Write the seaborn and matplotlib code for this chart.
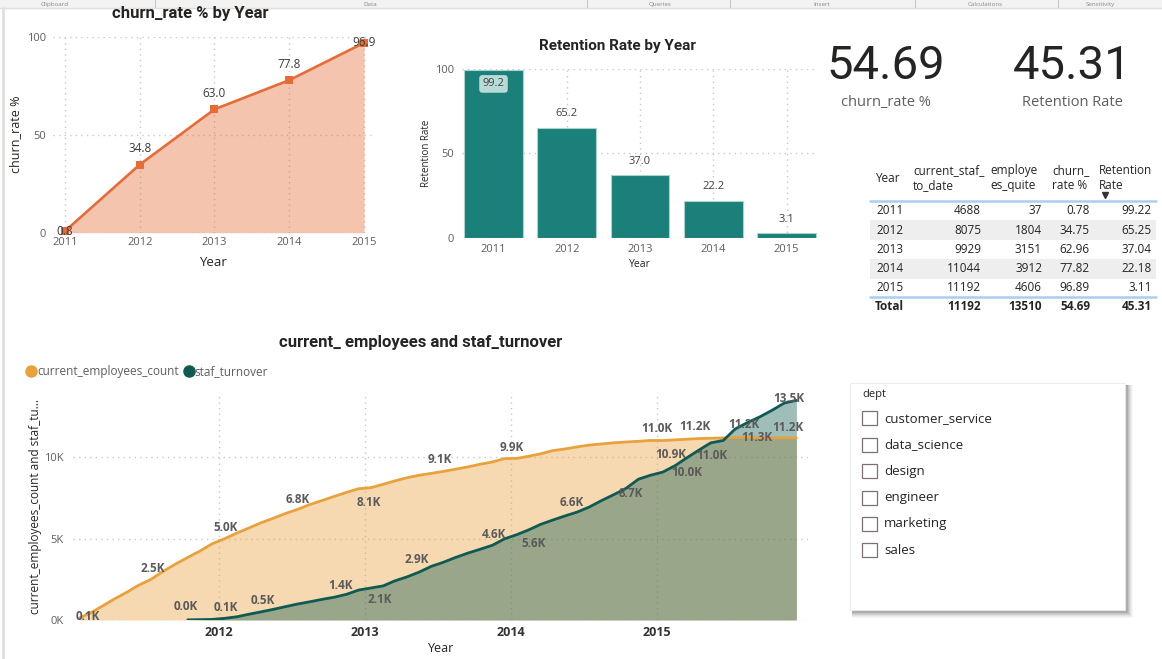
import numpy as np
import pandas as pd
import matplotlib
matplotlib.use("Agg")
import matplotlib.pyplot as plt
import matplotlib.dates as mdates
from matplotlib.patches import Rectangle, FancyBboxPatch
from matplotlib.lines import Line2D
import seaborn as sns

# ---------------- data ----------------
years = [2011, 2012, 2013, 2014, 2015]
year_labels = ["2011", "2012", "2013", "2014", "2015"]
churn_rate = [0.78, 34.75, 62.96, 77.82, 96.89]
retention_rate = [99.22, 65.25, 37.04, 22.18, 3.11]
current_staf_to_date = [4688, 8075, 9929, 11044, 11192]
employees_quite = [37, 1804, 3151, 3912, 4606]
table_churn = ["0.78", "34.75", "62.96", "77.82", "96.89"]
table_retention = ["99.22", "65.25", "37.04", "22.18", "3.11"]
total_row = ["Total", "11192", "13510", "54.69", "45.31"]
table_headers = ["Year", "current_staf_\nto_date", "employe\nes_quite", "churn_\nrate %", "Retention\nRate"]
kpi_values = ["54.69", "45.31"]
kpi_labels = ["churn_rate %", "Retention Rate"]
depts = ["customer_service", "data_science", "design", "engineer", "marketing", "sales"]
ribbon_tabs = ["Clipboard", "Data", "Queries", "Insert", "Calculations", "Sensitivity"]
axis_years = ["2012", "2013", "2014", "2015"]

months = [f"{y}-{m:02d}-15" for y in range(2011, 2016) for m in range(1, 13)]
current_employees_count = [
    100, 450, 850, 1300, 1700, 2150, 2500, 3000, 3450, 3850, 4250, 4688,
    5000, 5350, 5650, 5980, 6250, 6550, 6800, 7100, 7350, 7600, 7850, 8075,
    8140, 8350, 8550, 8750, 8900, 9020, 9140, 9280, 9420, 9580, 9720, 9929,
    9940, 10080, 10220, 10420, 10520, 10650, 10760, 10830, 10900, 10950, 10990, 11044,
    11040, 11080, 11120, 11160, 11180, 11200, 11220, 11260, 11220, 11200, 11200, 11192,
]
staf_turnover = [
    np.nan, np.nan, np.nan, np.nan, np.nan, np.nan, np.nan, np.nan, np.nan, 10, 20, 37,
    100, 200, 350, 500, 650, 820, 980, 1120, 1270, 1400, 1580, 1841,
    1970, 2100, 2400, 2650, 2940, 3300, 3550, 3850, 4120, 4350, 4600, 4992,
    5250, 5560, 5880, 6150, 6400, 6640, 6950, 7350, 7720, 8100, 8660, 8904,
    9100, 9500, 9960, 10450, 10900, 11040, 11750, 12150, 12500, 12900, 13350, 13510,
]

# ---------------- style ----------------
sns.set_style("white")
plt.rcParams["font.family"] = ["Open Sans", "DejaVu Sans"]
plt.rcParams["axes.unicode_minus"] = False

W, H = 1162, 659
fig = plt.figure(figsize=(W / 100, H / 100), dpi=100)
fig.patch.set_facecolor("white")


def px_axes(x0, y0, x1, y1, **kw):
    return fig.add_axes([x0 / W, 1 - y1 / H, (x1 - x0) / W, (y1 - y0) / H], **kw)


GRID = dict(linestyle=(0, (1, 3)), color="#C8C8C8", linewidth=1.0)
TICK_GRAY = "#605E5C"
DARK = "#252423"
TITLE_FONT = ["Roboto", "DejaVu Sans"]


def clean(ax):
    for s in ax.spines.values():
        s.set_visible(False)
    ax.tick_params(length=0)
    ax.set_facecolor("none")


# background layer
bg = px_axes(0, 0, W, H)
bg.set_xlim(0, W)
bg.set_ylim(H, 0)
bg.axis("off")
bg.set_zorder(-10)
bg.add_patch(Rectangle((0, 0), W, 8, color="#F3F2F1", lw=0))
bg.plot([0, W], [8, 8], color="#E1DFDD", lw=1)
for xs in [155, 587, 730, 915, 1058]:
    bg.plot([xs, xs], [0, 7], color="#C8C6C4", lw=0.8)
bg.plot([3, 3], [8, H], color="#E1DFDD", lw=2)
for name, xc in zip(ribbon_tabs, [55, 370, 660, 822, 985, 1100]):
    bg.text(xc, 4.2, name, ha="center", va="center", fontsize=4.5, color="#8A8886")

# ---------------- chart 1: churn rate area ----------------
CH_ORANGE = "#E66C37"
ax1 = px_axes(53, 36.7, 373, 232.7)
clean(ax1)
ax1.fill_between(years, 0, churn_rate, color=CH_ORANGE, alpha=0.4, lw=0, zorder=1)
sns.lineplot(x=years, y=churn_rate, ax=ax1, color=CH_ORANGE, linewidth=1.9,
             marker="s", markersize=6, markeredgewidth=0, zorder=3, clip_on=False)
ax1.set_xlim(2010.84, 2015.12)
ax1.set_ylim(0, 100)
ax1.set_xticks(years)
ax1.set_xticklabels(year_labels)
ax1.set_yticks([0, 50, 100])
ax1.grid(True, axis="both", **GRID)
ax1.set_axisbelow(True)
ax1.tick_params(axis="both", labelsize=8, labelcolor=TICK_GRAY)
ax1.tick_params(axis="y", pad=5)
ax1.tick_params(axis="x", pad=3)
ax1.set_title("churn_rate % by Year", fontsize=12, weight="bold", color=DARK,
              family=TITLE_FONT, x=0.428, y=1.116, va="center", pad=0)
ax1.set_xlabel("Year", fontsize=9.5, color=DARK, va="center")
ax1.xaxis.set_label_coords(0.5, -0.15)
ax1.set_ylabel("churn_rate %", fontsize=9, color=DARK, va="center")
ax1.yaxis.set_label_coords(-0.118, 0.5)
c_off = [0, 16, 16, 16, 0]
for xv, yv, off in zip(years, churn_rate, c_off):
    ax1.annotate(f"{yv:.1f}", (xv, yv), xytext=(0, off), textcoords="offset pixels",
                 ha="center", va="center", fontsize=8.5, color="#3B3B3B",
                 annotation_clip=False, zorder=5)

# ---------------- chart 2: retention bars ----------------
BAR_TEAL = "#1A8079"
ax2 = px_axes(462, 68.6, 818, 238.3)
clean(ax2)
sns.barplot(x=year_labels, y=retention_rate, ax=ax2, color=BAR_TEAL, saturation=1,
            width=0.8, edgecolor="#A9D3CE", linewidth=0.8, zorder=2)
ax2.set_xlim(-0.43, 4.43)
ax2.set_ylim(0, 100)
ax2.set_yticks([0, 50, 100])
ax2.grid(True, axis="both", **GRID)
ax2.set_axisbelow(True)
ax2.tick_params(axis="both", labelsize=8, labelcolor=TICK_GRAY)
ax2.tick_params(axis="y", pad=6)
ax2.tick_params(axis="x", pad=4)
ax2.set_title("Retention Rate by Year", fontsize=11, weight="bold", color=DARK,
              family=TITLE_FONT, x=0.438, y=1.133, va="center", pad=0)
ax2.set_xlabel("Year", fontsize=7.5, color=DARK, va="center")
ax2.xaxis.set_label_coords(0.5, -0.157)
ax2.set_ylabel("Retention Rate", fontsize=7, color=DARK, va="center")
ax2.yaxis.set_label_coords(-0.101, 0.5)
for i, v in enumerate(retention_rate):
    if v > 90:
        ax2.annotate(f"{v:.1f}", (i, v), xytext=(0, -14), textcoords="offset pixels",
                     ha="center", va="center", fontsize=8, color="#404040", zorder=6,
                     bbox=dict(boxstyle="round,pad=0.3,rounding_size=0.3", fc="#B9DBD7", ec="none"))
    else:
        ax2.annotate(f"{v:.1f}", (i, v), xytext=(0, 14), textcoords="offset pixels",
                     ha="center", va="center", fontsize=8, color="#404040", zorder=6,
                     annotation_clip=False)

# ---------------- chart 3: employees vs turnover ----------------
EMP_ORANGE = "#E9A23B"
TURN_TEAL = "#0F5A52"
df = pd.DataFrame({
    "date": pd.to_datetime(months),
    "current_employees_count": current_employees_count,
    "staf_turnover": staf_turnover,
})
long_df = df.melt(id_vars="date", var_name="series", value_name="value")

ax3 = px_axes(73, 392.4, 808, 620)
clean(ax3)
ax3.fill_between(df["date"], 0, df["current_employees_count"], color=EMP_ORANGE, alpha=0.4, lw=0, zorder=1)
ax3.fill_between(df["date"], 0, df["staf_turnover"], color=TURN_TEAL, alpha=0.4, lw=0, zorder=2)
sns.lineplot(data=long_df, x="date", y="value", hue="series", ax=ax3,
             palette={"current_employees_count": EMP_ORANGE, "staf_turnover": TURN_TEAL},
             linewidth=2.0, legend=False, zorder=4)
ax3.set_xlim(pd.Timestamp("2011-01-01"), pd.Timestamp("2016-01-13"))
ax3.set_ylim(0, 14000)
ax3.set_yticks([0, 5000, 10000])
ax3.set_yticklabels(["0K", "5K", "10K"])
ax3.set_xticks(pd.to_datetime([f"{y}-01-01" for y in axis_years]))
ax3.set_xticklabels(axis_years)
ax3.grid(True, axis="both", **GRID)
ax3.set_axisbelow(True)
ax3.tick_params(axis="y", labelsize=8, labelcolor=TICK_GRAY, pad=7)
ax3.tick_params(axis="x", labelsize=9, labelcolor="#333333", pad=4)
for t in ax3.get_xticklabels():
    t.set_fontweight("bold")
ax3.set_title("current_ employees and staf_turnover", fontsize=12, weight="bold", color=DARK,
              family=TITLE_FONT, x=0.4735, y=1.221, va="center", pad=0)
ax3.set_xlabel("Year", fontsize=9, color=DARK, va="center")
ax3.xaxis.set_label_coords(0.5007, -0.127)
ax3.set_ylabel("current_employees_count and staf_tu...", fontsize=8.5, color=DARK, va="center")
ax3.yaxis.set_label_coords(-0.0517, 0.5)

label_style = dict(ha="center", va="center", fontsize=8.5, weight="bold", color="#5A5A5A",
                   textcoords="offset pixels", annotation_clip=False, zorder=6)
orange_labels = {0: (9, 2), 6: (2, 11), 12: (1, 11), 18: (0, 10), 24: (-2, -15), 30: (-3, 12),
                 36: (-5, 11), 48: (-6, 12), 51: (-4, 12), 54: (9, 13), 55: (9, -1), 59: (-8, 11)}
teal_labels = {9: (-2, 13), 12: (1, 11), 15: (2, 11), 21: (6, 12), 25: (-4, -14), 28: (-2, 13),
               34: (1, 11), 37: (4, -14), 41: (-6, 10), 46: (-8, -14), 50: (0, -14),
               52: (-40, -12), 53: (-11, -15), 59: (-8, 2)}
for col, spec in [("current_employees_count", orange_labels), ("staf_turnover", teal_labels)]:
    for i, off in spec.items():
        v = df[col].iloc[i]
        ax3.annotate(f"{v / 1000:.1f}K", (df["date"].iloc[i], v), xytext=off, **label_style)

handles = [Line2D([], [], marker="o", linestyle="none", color=EMP_ORANGE, markersize=8),
           Line2D([], [], marker="o", linestyle="none", color=TURN_TEAL, markersize=8)]
fig.legend(handles, ["current_employees_count", "staf_turnover"], loc="center left",
           bbox_to_anchor=(27 / W, 1 - 372 / H), ncol=2, frameon=False, fontsize=8.5,
           handlelength=0.7, handletextpad=0.15, columnspacing=0.5, borderpad=0,
           borderaxespad=0, labelcolor="#605E5C")

# ---------------- overlay: KPIs, table, slicer ----------------
ov = px_axes(0, 0, W, H)
ov.set_xlim(0, W)
ov.set_ylim(H, 0)
ov.axis("off")
ov.set_zorder(20)
ov.patch.set_alpha(0)

for val, lab, xc in zip(kpi_values, kpi_labels, [886, 1072]):
    ov.text(xc, 66, val, ha="center", va="center", fontsize=34, color=DARK, family=TITLE_FONT)
    ov.text(xc, 103, lab, ha="center", va="center", fontsize=10.5, color=TICK_GRAY)

# table
hdr_left = [875, 913, 990, 1052, 1099]
val_right = [None, 981, 1042, 1090, 1152]
row_y = [210.3, 230, 249.3, 268.7, 287.7]
for i, yc in enumerate(row_y):
    if i % 2 == 1:
        ov.add_patch(Rectangle((870, yc - 9.8), 286, 19.6, color="#EEEEEE", lw=0, zorder=0))
for hl, text in zip(hdr_left, table_headers):
    ov.text(hl, 178, text, ha="left", va="center", fontsize=8.5, color=DARK, linespacing=1.25)
ov.plot([1105], [195], marker="v", markersize=4.5, color="#333333")
ov.plot([870, 1156], [200.7, 200.7], color="#A9CEEE", lw=1.8)
ov.plot([870, 1156], [296.7, 296.7], color="#A9CEEE", lw=1.8)
for i, yc in enumerate(row_y):
    cells = [str(years[i]), str(current_staf_to_date[i]), str(employees_quite[i]),
             table_churn[i], table_retention[i]]
    ov.text(876, yc, cells[0], ha="left", va="center", fontsize=8.5, color=DARK)
    for j in range(1, 5):
        ov.text(val_right[j], yc, cells[j], ha="right", va="center", fontsize=8.5, color=DARK)
ov.text(875, 306.7, total_row[0], ha="left", va="center", fontsize=8.5, color=DARK, weight="bold")
for j in range(1, 5):
    ov.text(val_right[j], 306.7, total_row[j], ha="right", va="center", fontsize=8.5,
            color=DARK, weight="bold")

# slicer with shadow
for k, a in zip(range(6, 0, -1), [0.03, 0.04, 0.05, 0.06, 0.08, 0.10]):
    ov.add_patch(FancyBboxPatch((850 + 2, 382.7 + 2), 275 + k, 227.3 + k,
                                boxstyle="square,pad=0", fc="black", ec="none", alpha=a, zorder=1))
ov.add_patch(Rectangle((850, 382.7), 275, 227.3, fc="white", ec="#E8E8E8", lw=0.6, zorder=2))
ov.text(862, 395, "dept", ha="left", va="center", fontsize=8, color=DARK, zorder=3)
slicer_y = [418.3, 445, 471, 497.7, 523.7, 550]
for name, yc in zip(depts, slicer_y):
    ov.add_patch(Rectangle((862.3, yc - 7), 14.4, 14, fc="white", ec="#7D6F73", lw=0.9, zorder=3))
    ov.text(884, yc, name, ha="left", va="center", fontsize=9.5, color=DARK, zorder=3)

fig.savefig("out.png", dpi=100)
